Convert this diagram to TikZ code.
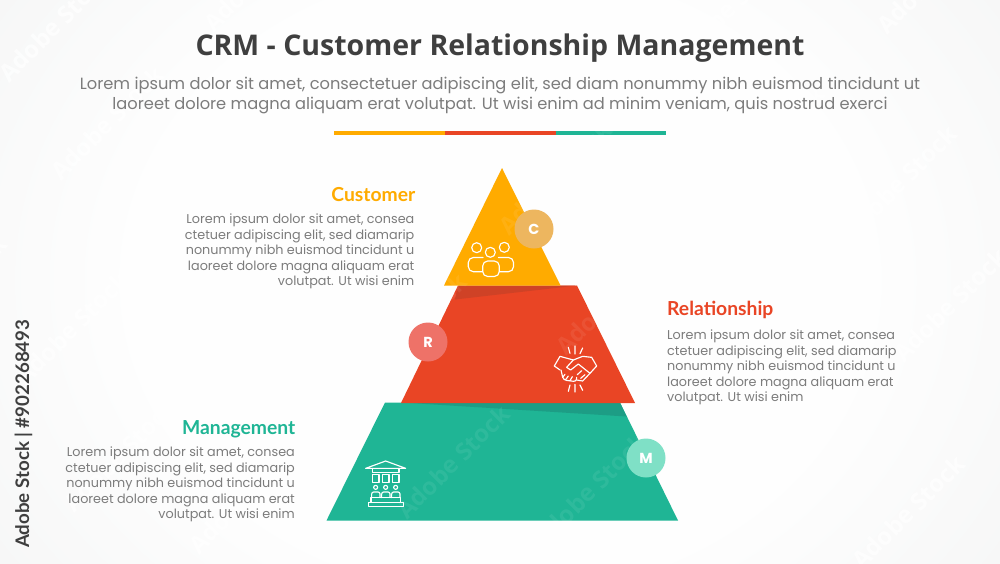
\documentclass[tikz,border=0pt]{standalone}
\usepackage{fontspec}
\setmainfont{Poppins}
\newfontfamily\opensans{Open Sans}
\newfontfamily\lato{Lato}
\definecolor{cOrange}{HTML}{FFAB00}
\definecolor{cRed}{HTML}{E94525}
\definecolor{cTeal}{HTML}{1FB595}
\definecolor{cRedDark}{HTML}{CF4226}
\definecolor{cTealDark}{HTML}{1D9D85}
\definecolor{cInk}{HTML}{3F3F3F}
\definecolor{cBody}{HTML}{7C7C7C}
\definecolor{cEdge}{HTML}{E8E9E9}
\definecolor{cCentre}{HTML}{FEFEFE}
\definecolor{cBadgeC}{HTML}{EDB65F}
\definecolor{cBadgeR}{HTML}{EE7268}
\definecolor{cBadgeM}{HTML}{7FE0C6}
\pgfdeclareradialshading{bgshade}{\pgfpoint{0bp}{0bp}}{color(0bp)=(cCentre);color(14bp)=(cCentre);color(42bp)=(cEdge);color(100bp)=(cEdge)}
\tikzset{
  x=1pt,y=-1pt,
  body/.style={font=\fontsize{12.77}{15.6}\selectfont,text=cBody,inner sep=0pt},
  head/.style={font=\lato\fontsize{19.3}{20}\selectfont\bfseries,inner sep=0pt},
  badge/.style={circle,minimum size=39pt,inner sep=0pt,text=white,font=\fontsize{14.5}{15}\selectfont\bfseries},
  iconline/.style={draw=white,line width=1.15pt,line join=round,line cap=round},
  wm/.style={rotate=45,text=white,font=\opensans\fontsize{24}{24}\selectfont\bfseries,inner sep=0pt},
}
\begin{document}
\begin{tikzpicture}
\useasboundingbox (0,0) rectangle (1000,563);
\shade[shading=bgshade] (-150,-260) rectangle (1150,820);
% watermark on the background
\foreach \wx/\wy [count=\wi] in {55/25,107/123,235/163,260/-25,-50/292,72/328,280/297,120/455,245/497,410/140,
  730/7,933/-23,768/142,900/182,950/305,780/473,908/512,745/342}
  {\node[wm,opacity=.7] (wm\wi) at (\wx,\wy) {Adobe Stock};}
% title
\node[font=\opensans\fontsize{28.5}{30}\selectfont\bfseries,text=cInk,inner sep=0pt] (title) at (500,48) {CRM - Customer Relationship Management};
\node[font=\fontsize{16.26}{20}\selectfont,text=cBody,align=center,inner sep=0pt] (subtitle) at (500,95.5)
 {Lorem ipsum dolor sit amet, consectetuer adipiscing elit, sed diam nonummy nibh euismod tincidunt ut\\
  laoreet dolore magna aliquam erat volutpat. Ut wisi enim ad minim veniam, quis nostrud exerci};
\fill[cOrange] (334,131) rectangle (444.5,135);
\fill[cRed] (444.5,131) rectangle (555.5,135);
\fill[cTeal] (555.5,131) rectangle (666,135);
% pyramid
\fill[cTeal] (385,402.5) -- (620,402.5) -- (678,520.5) -- (326.5,520.5) -- cycle;
\fill[cTealDark] (402,402.5) -- (620,402.5) -- (626.5,416.5) -- cycle;
\fill[cRed] (458,285.5) -- (577,285.5) -- (635,403) -- (401,403) -- cycle;
\fill[cRedDark] (458,285.5) -- (577,285.5) -- (455,299.5) -- cycle;
\fill[cOrange] (502,168) -- (560.5,285.5) -- (444,285.5) -- cycle;
% watermark over the pyramid
\foreach \wx/\wy [count=\wi] in {453/462,590/490,410/330,612/298,555/178}
  {\node[wm,opacity=.07] (wp\wi) at (\wx,\wy) {Adobe Stock};}
% badges
\node[badge,fill=cBadgeC] (cb) at (534,229) {C};
\node[badge,fill=cBadgeR] (rb) at (428,342) {R};
\node[badge,fill=cBadgeM] (mb) at (646,458) {M};
% people icon
\begin{scope}[iconline]
\draw (476.7,247.7) circle (5pt) (504.3,247.3) circle (5pt) (490.3,252.3) circle (5pt);
\draw[rounded corners=5pt] (482.5,271.7) -- (468.3,271.7) -- (468.3,257.5) -- (483,257.5);
\draw[rounded corners=5pt] (498.5,257.5) -- (513.5,257.5) -- (513.5,271.7) -- (499.5,271.7);
\draw[rounded corners=5pt] (482.7,276.5) -- (482.7,261) -- (499.3,261) -- (499.3,276.5) -- cycle;
\end{scope}
% handshake icon
\begin{scope}[shift={(400,280)},x=.3333pt,y=-.3333pt,iconline]
\draw (505,202)--(510,220) (525,198)--(525,222) (548,204)--(540,221);
\draw (505,334)--(510,315) (525,336)--(525,313) (548,331)--(540,315);
\draw (463,258)--(480,229)--(520,240)--(548,229)--(575,232)--(590,258)--(570,280)--(548,303)--(530,300);
\draw (480,270)--(463,258);
\draw (520,240)--(500,262)--(512,270)--(535,252)--(570,280);
\draw[rounded corners=3pt] (483,270)--(490,300)--(530,305)--(530,292);
\draw (495,283)--(488,292) (505,288)--(497,299) (517,290)--(510,302);
\draw (545,272)--(532,284) (555,284)--(542,295);
\end{scope}
% building icon
\begin{scope}[shift={(320,395)},x=.3333pt,y=-.3333pt,iconline]
\draw (137,220)--(197,198)--(257,220)--cycle;
\draw (157,220)--(157,232)--(237,232)--(237,220);
\draw (157,238) rectangle (177,263) (187,238) rectangle (207,263) (217,238) rectangle (237,263);
\draw (167,277) circle (2pt) (197,277) circle (2pt) (227,277) circle (2pt);
\draw[rounded corners=2pt] (155,308)--(155,291)--(180,291)--(180,308) (185,308)--(185,291)--(210,291)--(210,308) (215,308)--(215,291)--(240,291)--(240,308);
\draw (153,308)--(242,308)--(242,323)--(153,323)--cycle;
\draw (145,323) rectangle (250,335);
\end{scope}
% labels
\node[head,text=cOrange,anchor=east] (h1) at (415.5,194.5) {Customer};
\node[body,align=right,anchor=north east] (b1) at (414.5,213.5)
 {Lorem ipsum dolor sit amet, consea\\ctetuer adipiscing elit, sed diamarip\\nonummy nibh euismod tincidunt u\\laoreet dolore magna aliquam erat\\volutpat. Ut wisi enim};
\node[head,text=cRed,anchor=west] (h2) at (667,309.5) {Relationship};
\node[body,align=left,anchor=north west] (b2) at (667,329.5)
 {Lorem ipsum dolor sit amet, consea\\ctetuer adipiscing elit, sed diamarip\\nonummy nibh euismod tincidunt u\\laoreet dolore magna aliquam erat\\volutpat. Ut wisi enim};
\node[head,text=cTeal,anchor=east] (h3) at (295.5,429) {Management};
\node[body,align=right,anchor=north east] (b3) at (295,446.5)
 {Lorem ipsum dolor sit amet, consea\\ctetuer adipiscing elit, sed diamarip\\nonummy nibh euismod tincidunt u\\laoreet dolore magna aliquam erat\\volutpat. Ut wisi enim};
\node[rotate=90,anchor=west,font=\lato\fontsize{18.7}{20}\selectfont\bfseries,text=cInk,inner sep=0pt] (stock) at (23.5,548) {Adobe Stock | \#902268493};
\end{tikzpicture}
\end{document}
